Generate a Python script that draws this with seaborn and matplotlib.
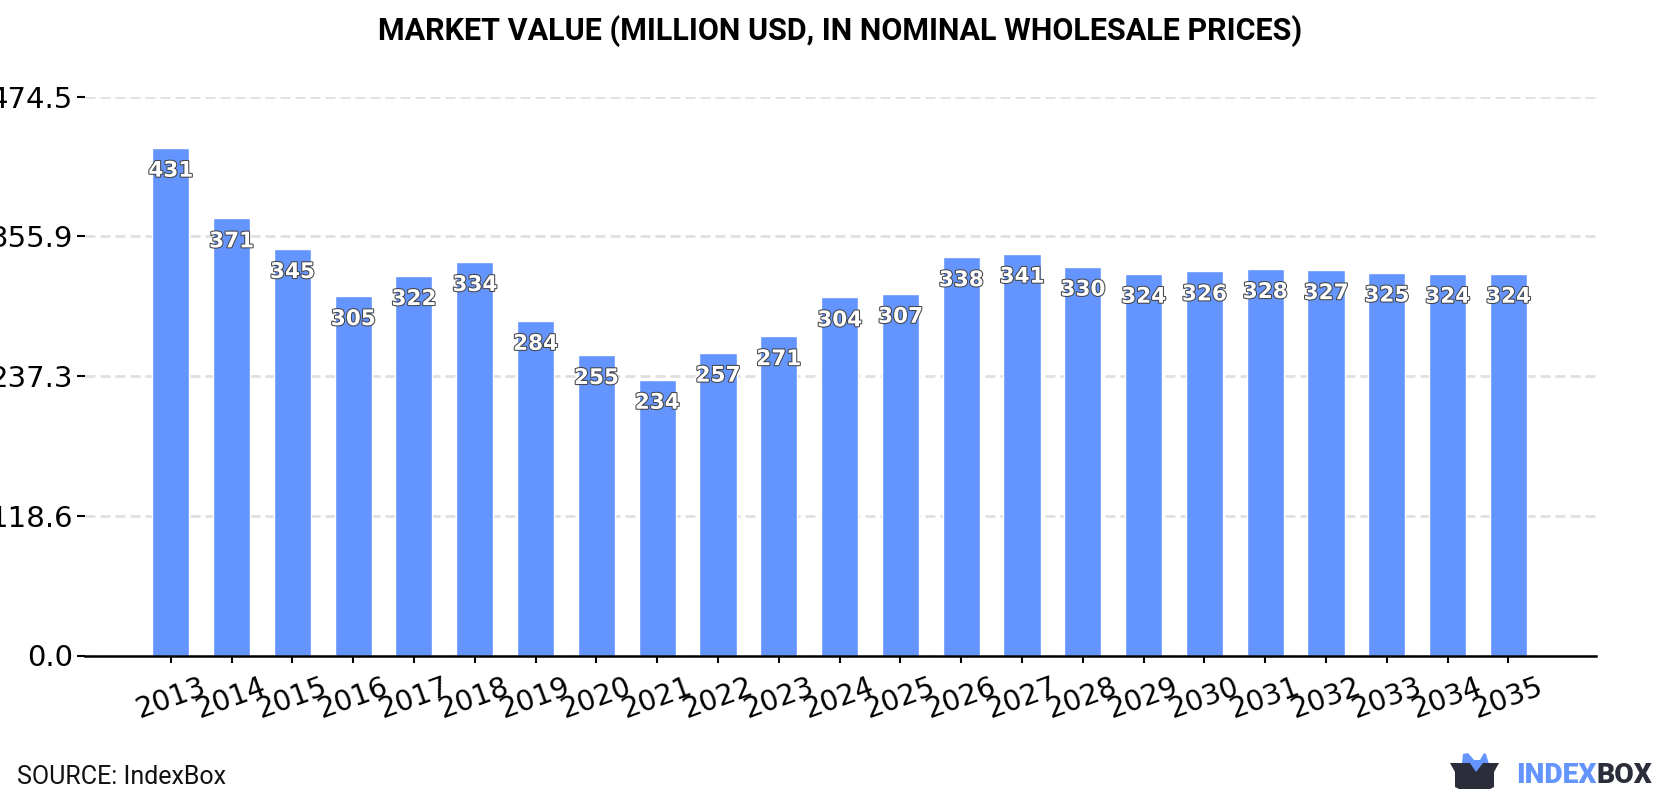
import matplotlib
matplotlib.use("Agg")
import matplotlib.pyplot as plt
import matplotlib.patheffects as pe
from matplotlib.patches import Polygon
import pandas as pd
import seaborn as sns

years = [str(y) for y in range(2013, 2036)]
values = [431, 371, 345, 305, 322, 334, 284, 255, 234, 257, 271, 304,
          307, 338, 341, 330, 324, 326, 328, 327, 325, 324, 324]
y_ticks = [0.0, 118.6, 237.3, 355.9, 474.5]

BAR = "#6495ff"
DARK = "#2b2d3a"

sns.set_theme(style="white")
plt.rcParams["font.family"] = ["DejaVu Sans"]

W, H = 1680, 800
fig = plt.figure(figsize=(W / 100, H / 100), dpi=100, facecolor="white")
ax = fig.add_axes([85 / W, 1 - 655.5 / H, (1596 - 85) / W, (655.5 - 96.5) / H])

df = pd.DataFrame({"year": years, "value": values})
sns.barplot(data=df, x="year", y="value", color=BAR, saturation=1, width=0.61, ax=ax, zorder=3)

ax.set_xlim(-1.41, 23.44)
ax.set_ylim(0, y_ticks[-1])
ax.set_yticks(y_ticks, [f"{t:.1f}" for t in y_ticks])
ax.set_xlabel("")
ax.set_ylabel("")
ax.yaxis.grid(True, linestyle=(0, (3.6, 1.8)), color="#e0e0e0", linewidth=2.0, zorder=0)
ax.xaxis.grid(False)
ax.set_axisbelow(True)
for side in ("top", "right", "left"):
    ax.spines[side].set_visible(False)
ax.spines["bottom"].set_color("black")
ax.spines["bottom"].set_linewidth(1.8)
ax.spines["bottom"].set_zorder(5)

ax.tick_params(axis="y", left=True, length=5.5, width=1.5, color="black", pad=3,
               labelsize=21, labelcolor="black")
ax.tick_params(axis="x", bottom=True, length=5, width=1.5, color="black", pad=7,
               labelsize=20.5, labelcolor="black", rotation=20)

# value labels sit just inside the top of each bar
for i, v in enumerate(values):
    ax.annotate(str(v), (i, v), xytext=(0, -16.5), textcoords="offset points",
                ha="center", va="center", fontsize=15.5, fontweight="bold",
                color="white", zorder=6, annotation_clip=False,
                path_effects=[pe.withStroke(linewidth=1.5, foreground="#444444")])

fig.text(840 / W, 1 - 31.5 / H, "MARKET VALUE (MILLION USD, IN NOMINAL WHOLESALE PRICES)",
         ha="center", va="center", fontsize=22, fontweight="bold",
         family="Roboto", color="black")
fig.text(17 / W, 1 - 776.5 / H, "SOURCE: IndexBox", ha="left", va="center",
         fontsize=18, family="Roboto", color="#111111")

# brand mark and wordmark in the lower right corner
logo = fig.add_axes([0, 0, 1, 1], facecolor="none")
logo.set_xlim(0, W)
logo.set_ylim(H, 0)
logo.axis("off")
logo.add_patch(Polygon([[1462, 763], [1463, 754], [1468, 753], [1474, 760], [1480, 760],
                        [1484, 753], [1486, 754], [1489, 764], [1476, 772], [1462, 772]],
                       closed=True, facecolor=BAR, edgecolor="none"))
logo.add_patch(Polygon([[1450, 763], [1470, 763], [1476, 772], [1483, 763], [1499, 763],
                        [1494, 772], [1494, 787], [1490, 789], [1459, 789], [1455, 787],
                        [1455, 772]],
                       closed=True, facecolor=DARK, edgecolor="none"))
word_left = logo.text(1516, 775.5, "INDEX", ha="left", va="center", fontsize=20.3,
                      fontweight="heavy", family="Roboto", color=BAR)
fig.canvas.draw()
bb = word_left.get_window_extent()
logo.text(bb.x1, 775.5, "BOX", ha="left", va="center", fontsize=20.3,
          fontweight="heavy", family="Roboto", color=DARK)

fig.savefig("out.png", dpi=100, facecolor="white")
